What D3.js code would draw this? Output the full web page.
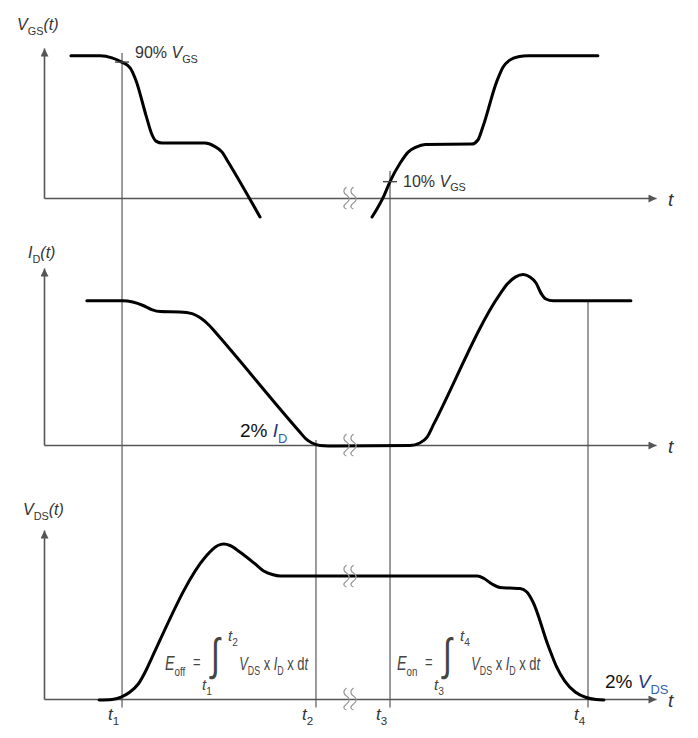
<!DOCTYPE html>
<html>
<head>
<meta charset="utf-8">
<script src="https://cdn.jsdelivr.net/npm/d3@7"></script>
<style>
  body { margin: 0; background: #fff; }
  svg { display: block; }
  text { font-family: "Liberation Sans", Arial, sans-serif; }
</style>
</head>
<body>
<script>
// switching waveforms: time in arbitrary units (0..100),
// values relative to the on-state level of each signal
const vgsTurnOff = [[4.4,1.0],[9.2,1.0],[11.1,0.986],[12.7,0.956],[14.1,0.914],[15.0,0.83],[16.7,0.576],
  [17.6,0.45],[18.3,0.40],[19.3,0.386],[26.3,0.386],[27.8,0.365],[29.1,0.323],[30.1,0.253],[35.3,-0.134]];
const vgsTurnOn = [[53.6,-0.134],[55.6,0.021],[56.5,0.112],[58.2,0.246],[59.5,0.323],[60.8,0.358],[62.3,0.376],
  [69.9,0.379],[70.9,0.408],[71.7,0.499],[74.0,0.822],[75.0,0.92],[76.1,0.97],[77.5,0.994],[79.1,1.0],[90.5,1.0]];
const idWave = [[7.0,1.0],[12.9,1.0],[14.5,0.991],[16.2,0.967],[17.6,0.939],[19.0,0.925],[22.2,0.922],[24.2,0.911],
  [25.6,0.88],[27.1,0.825],[28.4,0.762],[41.8,0.09],[42.8,0.042],[43.8,0.014],[45.1,-0.003],[47.7,-0.007],
  [59.8,-0.003],[61.4,0.014],[62.6,0.055],[63.7,0.146],[74.5,1.046],[75.7,1.116],[77.0,1.164],[78.3,1.182],
  [79.4,1.164],[80.4,1.123],[81.2,1.053],[82.0,1.012],[83.2,1.0],[95.9,1.0]];
const vdsWave = [[9.0,-0.008],[11.1,-0.004],[12.6,0.016],[14.05,0.057],[15.4,0.122],[16.7,0.236],[17.6,0.333],
  [26.5,1.163],[27.5,1.215],[28.4,1.248],[29.4,1.26],[30.4,1.248],[32.0,1.195],[34.5,1.098],[35.9,1.041],
  [37.3,1.012],[38.6,1.0],[70.8,1.0],[71.9,0.98],[73.2,0.935],[74.5,0.907],[76.1,0.902],[77.8,0.898],
  [78.9,0.87],[79.9,0.789],[82.4,0.431],[83.7,0.268],[85.1,0.146],[86.8,0.057],[88.6,0.012],[90.2,-0.004],[91.5,-0.008]];

const switchTimes = [12.75, 44.44, 56.54, 88.89];
const switchNames = ["1", "2", "3", "4"];
const lineTopPanel = ["gs", "d", "gs", "d"];
const lineTopLevel = [1.02, 0.035, 0.19, 1.0];
const breakTime = 50;
const gs90Level = 0.956;
const gs10Level = 0.115;

const width = 698, height = 738;
const svg = d3.select("body").append("svg")
  .attr("width", width)
  .attr("height", height);

svg.append("rect").attr("width", width).attr("height", height).attr("fill", "#fff");

// time axis shared by the three panels
const x = d3.scaleLinear().domain([0, 100]).range([44, 656]);
// one vertical scale per panel, top of domain = arrow tip
const y = {
  gs: d3.scaleLinear().domain([0, 1.055]).range([198, 48]),
  d: d3.scaleLinear().domain([0, 1.227]).range([445, 268]),
  ds: d3.scaleLinear().domain([0, 1.374]).range([699, 530])
};

const axisColor = "#555";
const defs = svg.append("defs");
defs.append("marker")
  .attr("id", "arrow")
  .attr("viewBox", "0 0 10 10")
  .attr("refX", 10).attr("refY", 5)
  .attr("markerUnits", "userSpaceOnUse")
  .attr("markerWidth", 11).attr("markerHeight", 8)
  .attr("orient", "auto")
  .append("path")
  .attr("d", "M0,0L10,5L0,10z")
  .attr("fill", axisColor);

// vertical time markers t1..t4
svg.append("g").selectAll("line")
  .data(switchTimes)
  .enter().append("line")
  .attr("x1", d => x(d)).attr("x2", d => x(d))
  .attr("y1", (d, i) => y[lineTopPanel[i]](lineTopLevel[i]))
  .attr("y2", y.ds(-0.07))
  .attr("stroke", "#666")
  .attr("stroke-width", 1.3);

// axes with arrows
Object.keys(y).forEach(k => {
  const xa = svg.append("g")
    .attr("transform", "translate(0," + y[k](0) + ")")
    .call(d3.axisBottom(x).tickValues([]).tickSizeOuter(0));
  const ya = svg.append("g")
    .attr("transform", "translate(" + x(0) + ",0)")
    .call(d3.axisLeft(y[k]).tickValues([]).tickSizeOuter(0));
  [xa, ya].forEach(a => a.select(".domain")
    .attr("stroke", axisColor)
    .attr("stroke-width", 1.6)
    .attr("marker-end", "url(#arrow)"));
});

// waveforms
function drawWave(data, scale) {
  const line = d3.line()
    .x(d => x(d[0]))
    .y(d => scale(d[1]))
    .curve(d3.curveMonotoneX);
  svg.append("path")
    .datum(data)
    .attr("d", line)
    .attr("fill", "none")
    .attr("stroke", "#000")
    .attr("stroke-width", 3)
    .attr("stroke-linecap", "round")
    .attr("stroke-linejoin", "round");
}
drawWave(vgsTurnOff, y.gs);
drawWave(vgsTurnOn, y.gs);
drawWave(idWave, y.d);
drawWave(vdsWave, y.ds);

// small cross ticks at 90% / 10% VGS
[[switchTimes[0], gs90Level], [switchTimes[2], gs10Level]].forEach(p => {
  svg.append("line")
    .attr("x1", x(p[0]) - 7).attr("x2", x(p[0]) + 7)
    .attr("y1", y.gs(p[1])).attr("y2", y.gs(p[1]))
    .attr("stroke", "#444").attr("stroke-width", 1.4);
});

// axis break marks
function breakMark(cx, cy) {
  [-3.5, 3.5].forEach(off => {
    const bx = cx + off, by = cy - 11;
    svg.append("path")
      .attr("d", "M" + bx + "," + by + "c-4,3 -3,6 0,8 c3,2 4,5 0,8 c-4,3 -3,5 0,6")
      .attr("fill", "none")
      .attr("stroke", "#999")
      .attr("stroke-width", 1.3);
  });
}
breakMark(x(breakTime), y.gs(0));
breakMark(x(breakTime), y.d(0));
breakMark(x(breakTime), y.ds(0));
breakMark(x(breakTime), y.ds(1));

// rich text helper: parts = [text, kind, colour]; kind: i = italic, s = subscript
function richText(parent, px, py, size, parts, fill) {
  const t = parent.append("text")
    .attr("x", px).attr("y", py)
    .attr("font-size", size)
    .attr("fill", fill);
  let shift = 0;
  parts.forEach(p => {
    const kind = p[1] || "";
    const target = kind.includes("s") ? size * 0.3 : 0;
    const ts = t.append("tspan").text(p[0]).attr("dy", target - shift);
    shift = target;
    if (kind.includes("s")) ts.attr("font-size", size * 0.68);
    if (kind.includes("i")) ts.attr("font-style", "italic");
    if (p[2]) ts.attr("fill", p[2]);
  });
  return t;
}

const labelColor = "#333";
richText(svg, 17, 30, 16, [["V", "i"], ["GS", "s"], ["(t)", "i"]], labelColor);
richText(svg, 28, 258, 16, [["I", "i"], ["D", "s"], ["(t)", "i"]], labelColor);
richText(svg, 23, 515, 16, [["V", "i"], ["DS", "s"], ["(t)", "i"]], labelColor);

["gs", "d", "ds"].forEach(k => {
  richText(svg, x(100) + 12, y[k](0) + 8, 19, [["t", "i"]], labelColor);
});

richText(svg, x(switchTimes[0]) + 13, y.gs(gs90Level) - 4, 16, [["90% "], ["V", "i"], ["GS", "s"]], labelColor);
richText(svg, x(switchTimes[2]) + 13, y.gs(gs10Level) + 5, 16, [["10% "], ["V", "i"], ["GS", "s"]], labelColor);
richText(svg, 240, 437, 19, [["2% "], ["I", "i", "#1f3a7a"], ["D", "s", "#2f5fb3"]], "#111");
richText(svg, 605, 688, 19, [["2% "], ["V", "i", "#1f3a7a"], ["DS", "s", "#2f5fb3"]], "#111");

// t1..t4 under the last axis
switchTimes.forEach((d, i) => {
  richText(svg, x(d) - 14, 720, 17, [["t", "i"], [switchNames[i], "s"]], labelColor);
});

// energy integrals
const fColor = "#444";
function formula(px, sub, lo, hi) {
  const g = svg.append("g").attr("transform", "translate(" + px + ",670) scale(0.72,1)");
  richText(g, 0, 0, 20, [["E", "i"], [sub, "s"]], fColor);
  richText(g, 39, -2, 18, [["="]], fColor);
  richText(g, 103, 0, 18, [["V", "i"], ["DS", "s"], [" x "], ["I", "i"], ["D", "s"], [" x d"], ["t", "i"]], fColor);
  svg.append("text")
    .attr("transform", "translate(" + (px + 46) + ",670) scale(0.9,1.25)")
    .attr("font-size", 36)
    .attr("font-family", "'Liberation Serif', serif")
    .attr("fill", fColor)
    .text("\u222B");
  richText(svg, px + 63, 641, 15, [["t", "i"], [hi, "s"]], fColor);
  richText(svg, px + 37, 690, 15, [["t", "i"], [lo, "s"]], fColor);
}
formula(165, "off", "1", "2");
formula(397, "on", "3", "4");
</script>
</body>
</html>
